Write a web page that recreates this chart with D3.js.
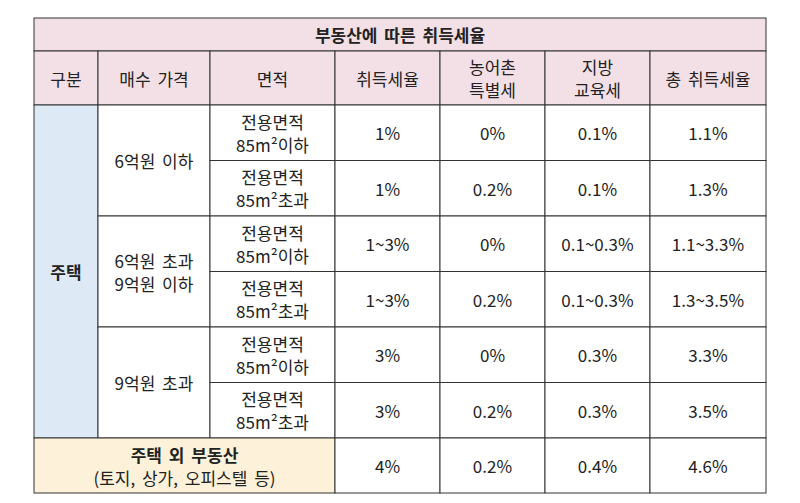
<!DOCTYPE html>
<html><head><meta charset="utf-8">
<script src="https://cdn.jsdelivr.net/npm/d3@7"></script>
<style>body{margin:0;background:#fff}</style>
</head><body>
<svg id="t" width="800" height="503"></svg>
<script>
var title = "부동산에 따른 취득세율";
var headers = [["구분"], ["매수 가격"], ["면적"], ["취득세율"], ["농어촌","특별세"], ["지방","교육세"], ["총 취득세율"]];
var prices = [["6억원 이하"], ["6억원 초과","9억원 이하"], ["9억원 초과"]];
var areas = [["전용면적","85m²이하"], ["전용면적","85m²초과"]];
var acqRate = ["1%","1%","1~3%","1~3%","3%","3%","4%"];
var ruralTax = ["0%","0.2%","0%","0.2%","0%","0.2%","0.2%"];
var eduTax = ["0.1%","0.1%","0.1~0.3%","0.1~0.3%","0.3%","0.3%","0.4%"];
var totalRate = ["1.1%","1.3%","1.1~3.3%","1.3~3.5%","3.3%","3.5%","4.6%"];
var otherLabel = ["주택 외 부동산","(토지, 상가, 오피스텔 등)"];

var colX = [34, 98, 210, 335, 440, 545, 650, 766];
var rowY = [18, 51, 105, 160.5, 216, 271.5, 327, 382.5, 438, 493];
var font = "'Noto Sans CJK KR', sans-serif";
var svg = d3.select("#t");

function cell(c0, c1, r0, r1, lines, fill, bold) {
  var g = svg.append("g");
  g.append("rect").attr("x", colX[c0]).attr("y", rowY[r0])
    .attr("width", colX[c1] - colX[c0]).attr("height", rowY[r1] - rowY[r0])
    .attr("fill", fill || "#fff").attr("stroke", "#333").attr("stroke-width", 1);
  var cx = (colX[c0] + colX[c1]) / 2, cy = (rowY[r0] + rowY[r1]) / 2;
  var lh = 23;
  lines.forEach(function(t, i) {
    g.append("text").attr("x", cx).attr("y", cy + (i - (lines.length - 1) / 2) * lh)
      .attr("text-anchor", "middle").attr("dominant-baseline", "central")
      .attr("font-family", font).attr("font-size", 17).attr("fill", "#222")
      .attr("word-spacing", 3)
      .attr("font-weight", (bold === true || (bold === 1 && i === 0)) ? "bold" : "normal").text(t);
  });
}

var pink = "#f3e0e7", blue = "#ddeaf6", yellow = "#fdf2d9";
cell(0, 7, 0, 1, [title], pink, true);
headers.forEach(function(h, i) { cell(i, i + 1, 1, 2, h, pink); });
cell(0, 1, 2, 8, ["주택"], blue, true);
prices.forEach(function(p, i) { cell(1, 2, 2 + i * 2, 4 + i * 2, p); });
for (var r = 0; r < 6; r++) cell(2, 3, 2 + r, 3 + r, areas[r % 2]);
cell(0, 3, 8, 9, otherLabel, yellow, 1);
[acqRate, ruralTax, eduTax, totalRate].forEach(function(col, j) {
  col.forEach(function(v, r) { cell(3 + j, 4 + j, 2 + r, 3 + r, [v]); });
});
</script>
</body></html>
